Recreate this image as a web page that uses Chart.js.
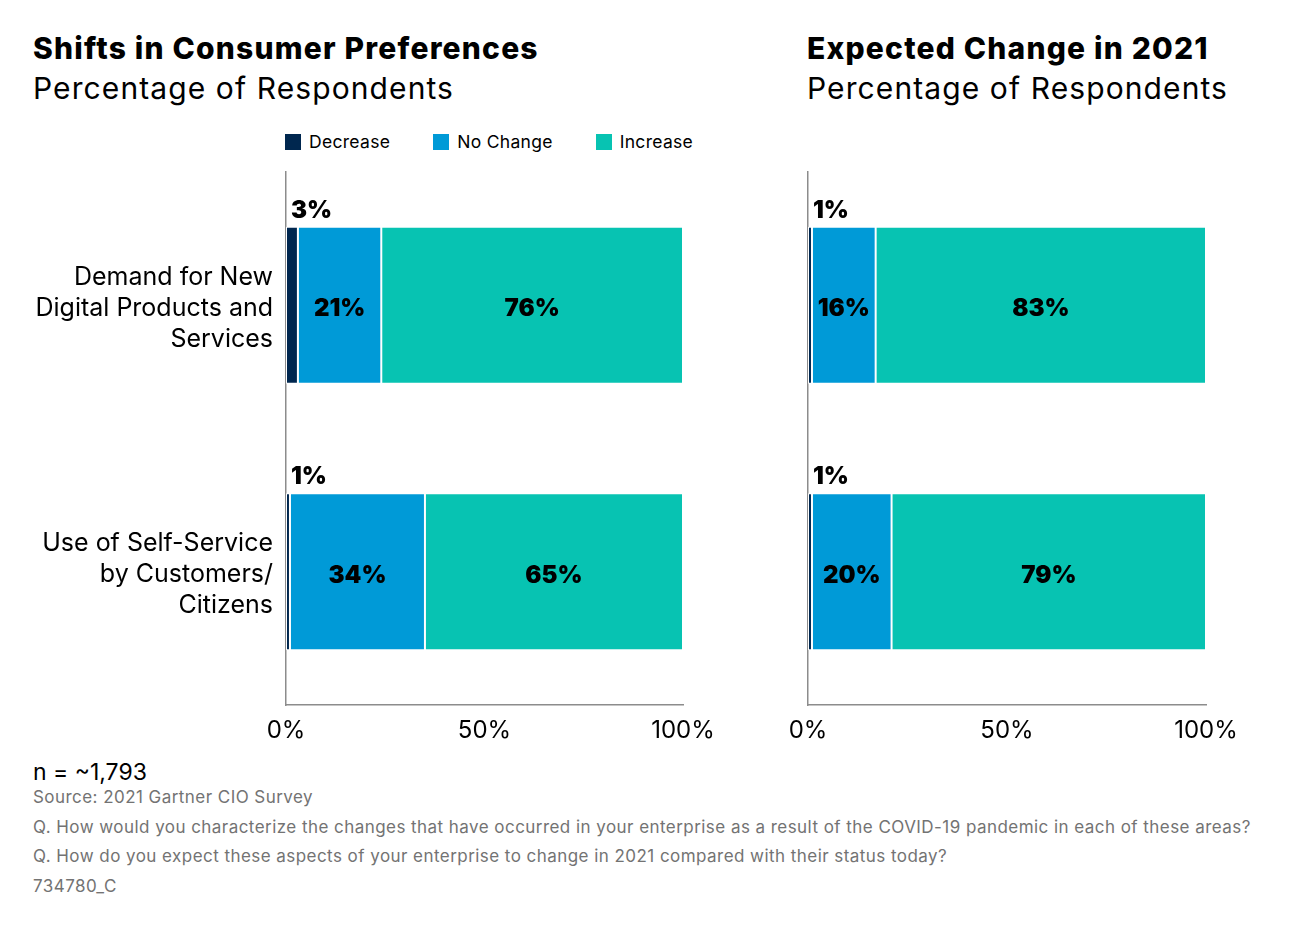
<!DOCTYPE html>
<html>
  <head>
    <title>Consumer Preferences</title>
    <script src="https://cdn.jsdelivr.net/npm/chart.js"></script>
    <style>
      body { margin: 0; background: #fff; font-family: "Inter", "Noto Sans", sans-serif; }
      .page { position: relative; width: 1310px; height: 926px; overflow: hidden; }
      .abs { position: absolute; white-space: nowrap; }
      .title { font-size: 30px; font-weight: 800; color: #000; letter-spacing: 1.2px; line-height: 36px; }
      .subtitle { font-size: 30px; font-weight: 400; color: #000; letter-spacing: 1.1px; line-height: 36px; }
      .legend { display: flex; align-items: center; font-size: 17.5px; letter-spacing: 0.3px; color: #000; }
      .legend .item { display: flex; align-items: center; margin-right: 43px; }
      .legend .box { width: 16px; height: 16px; margin-right: 8px; }
      .note { font-size: 17px; letter-spacing: 0.45px; color: #737373; line-height: 22px; }
    </style>
  </head>
  <body>
    <div class="page">
      <div class="abs title" style="left:33px; top:30px;">Shifts in Consumer Preferences</div>
      <div class="abs subtitle" style="left:33px; top:70px;">Percentage of Respondents</div>
      <div class="abs title" style="left:807px; top:30px;">Expected Change in 2021</div>
      <div class="abs subtitle" style="left:807px; top:70px;">Percentage of Respondents</div>

      <div class="abs legend" id="legend" style="left:285px; top:131px;"></div>

      <canvas id="shiftsChart" class="abs" style="left:0; top:160px;"></canvas>
      <canvas id="expectedChart" class="abs" style="left:790px; top:160px;"></canvas>

      <div class="abs" style="left:33px; top:757px; font-size:23px; color:#000; line-height:30px;">n = ~1,793</div>
      <div class="abs note" style="left:33px; top:786px;">Source: 2021 Gartner CIO Survey</div>
      <div class="abs note" style="left:33px; top:816px;">Q. How would you characterize the changes that have occurred in your enterprise as a result of the COVID-19 pandemic in each of these areas?</div>
      <div class="abs note" style="left:33px; top:845px;">Q. How do you expect these aspects of your enterprise to change in 2021 compared with their status today?</div>
      <div class="abs note" style="left:33px; top:875px;">734780_C</div>
    </div>

    <script>
  // data
  const categories = [
    ['Demand for New', 'Digital Products and', 'Services'],
    ['Use of Self-Service', 'by Customers/', 'Citizens']
  ];
  const seriesNames = ['Decrease', 'No Change', 'Increase'];
  const seriesColors = ['#00274f', '#009ad7', '#07c3b2'];

  const shiftsDecrease = [3, 1];
  const shiftsNoChange = [21, 34];
  const shiftsIncrease = [76, 65];

  const expectedDecrease = [1, 1];
  const expectedNoChange = [16, 20];
  const expectedIncrease = [83, 79];

  const xTicks = [0, 50, 100];

  // legend
  const legend = document.getElementById('legend');
  seriesNames.forEach((name, i) => {
    const item = document.createElement('div');
    item.className = 'item';
    item.innerHTML = `<span class="box" style="background:${seriesColors[i]}"></span>${name}`;
    legend.appendChild(item);
  });

  // value labels on the bars
  const barLabels = {
    id: 'barLabels',
    afterDatasetsDraw(chart) {
      const ctx = chart.ctx;
      ctx.save();
      ctx.font = '900 24px Inter, sans-serif';
      ctx.fillStyle = '#000';
      ctx.textBaseline = 'middle';
      chart.data.datasets.forEach((ds, i) => {
        chart.getDatasetMeta(i).data.forEach((bar, j) => {
          const text = ds.data[j] + '%';
          if (i === 0) {
            // decrease sits above the bar
            ctx.textAlign = 'left';
            ctx.fillText(text, bar.base + 5, bar.y - bar.height / 2 - 16);
          } else {
            ctx.textAlign = 'center';
            ctx.fillText(text, (bar.x + bar.base) / 2, bar.y + 4);
          }
        });
      });
      ctx.restore();
    }
  };

  function makeChart(id, width, values, showLabels, axisWidth, padRight) {
    const canvas = document.getElementById(id);
    canvas.width = width;
    canvas.height = 590;
    canvas.style.width = width + 'px';
    canvas.style.height = '590px';
    return new Chart(canvas, {
      type: 'bar',
      data: {
        labels: categories,
        datasets: values.map((data, i) => ({
          label: seriesNames[i],
          data: data,
          backgroundColor: seriesColors[i],
          borderColor: '#ffffff',
          borderWidth: 1,
          borderSkipped: false,
          categoryPercentage: 0.59,
          barPercentage: 1
        }))
      },
      options: {
        indexAxis: 'y',
        responsive: false,
        animation: false,
        layout: { padding: { top: 12, right: padRight, bottom: 0, left: 0 } },
        plugins: { legend: { display: false }, tooltip: { enabled: false } },
        scales: {
          x: {
            stacked: true,
            min: 0,
            max: 100,
            afterBuildTicks: scale => { scale.ticks = xTicks.map(v => ({ value: v })); },
            afterFit: scale => {
              scale.height = 45;
              scale.paddingLeft = 0;
              scale.paddingRight = 0;
            },
            grid: { display: false, drawTicks: false },
            border: { display: true, color: '#8c8c8c', width: 1.5 },
            ticks: {
              padding: 11,
              color: '#000',
              font: { family: 'Inter', size: 24 },
              callback: v => v + '%'
            }
          },
          y: {
            stacked: true,
            afterFit: scale => {
              scale.width = axisWidth;
              scale.paddingTop = 0;
              scale.paddingBottom = 0;
            },
            grid: { display: false, drawTicks: false },
            border: { display: true, color: '#8c8c8c', width: 1.5 },
            ticks: {
              display: showLabels,
              padding: 13,
              labelOffset: 3,
              color: '#000',
              font: { family: 'Inter', size: 25, lineHeight: 1.24 }
            }
          }
        }
      },
      plugins: [barLabels]
    });
  }

  makeChart('shiftsChart', 730, [shiftsDecrease, shiftsNoChange, shiftsIncrease], true, 286, 47);
  makeChart('expectedChart', 520, [expectedDecrease, expectedNoChange, expectedIncrease], false, 18, 104);
</script>
  </body>
</html>
